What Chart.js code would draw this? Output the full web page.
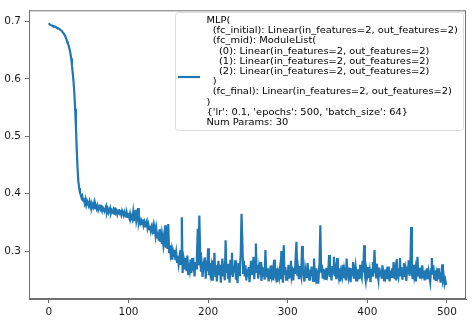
<!DOCTYPE html>
<html>
<head>
<meta charset="utf-8">
<script src="https://cdn.jsdelivr.net/npm/chart.js@4/dist/chart.umd.min.js"></script>
<style>
    html, body { margin: 0; padding: 0; background: #fff; }
    #wrap { width: 474px; height: 322px; }
</style>
</head>
<body>
<div id="wrap"><canvas id="loss-chart" width="474" height="322"></canvas></div>
<script>
// training loss per epoch
const lossValues = [
    0.697, 0.695, 0.694, 0.693, 0.693, 0.692, 0.692, 0.691, 0.691, 0.690,
    0.689, 0.689, 0.688, 0.687, 0.686, 0.685, 0.684, 0.682, 0.680, 0.678,
    0.676, 0.673, 0.669, 0.665, 0.661, 0.657, 0.652, 0.645, 0.636, 0.624,
    0.610, 0.595, 0.575, 0.548, 0.515, 0.478, 0.445, 0.422, 0.410, 0.402,
    0.398, 0.393, 0.396, 0.388, 0.392, 0.384, 0.390, 0.381, 0.387, 0.383,
    0.380, 0.386, 0.378, 0.383, 0.376, 0.381, 0.377, 0.384, 0.375, 0.379,
    0.374, 0.379, 0.372, 0.377, 0.381, 0.373, 0.376, 0.370, 0.375, 0.372,
    0.369, 0.374, 0.378, 0.368, 0.373, 0.367, 0.371, 0.375, 0.366, 0.370,
    0.368, 0.372, 0.365, 0.376, 0.367, 0.370, 0.364, 0.369, 0.373, 0.366,
    0.368, 0.363, 0.370, 0.366, 0.362, 0.368, 0.364, 0.360, 0.366, 0.361,
    0.363, 0.358, 0.365, 0.357, 0.361, 0.356, 0.368, 0.354, 0.359, 0.372,
    0.352, 0.358, 0.375, 0.350, 0.356, 0.349, 0.353, 0.347, 0.355, 0.345,
    0.350, 0.343, 0.348, 0.352, 0.340, 0.346, 0.338, 0.344, 0.335, 0.342,
    0.336, 0.344, 0.330, 0.340, 0.327, 0.338, 0.324, 0.333, 0.318, 0.338,
    0.316, 0.328, 0.312, 0.324, 0.309, 0.318, 0.345, 0.306, 0.316, 0.304,
    0.347, 0.298, 0.310, 0.294, 0.302, 0.285, 0.298, 0.290, 0.302, 0.284,
    0.296, 0.281, 0.292, 0.278, 0.289, 0.276, 0.300, 0.359, 0.262, 0.290,
    0.282, 0.270, 0.288, 0.265, 0.292, 0.260, 0.279, 0.268, 0.285, 0.262,
    0.288, 0.266, 0.275, 0.256, 0.281, 0.270, 0.292, 0.339, 0.275, 0.362,
    0.298, 0.264, 0.281, 0.255, 0.276, 0.268, 0.289, 0.252, 0.283, 0.265,
    0.305, 0.258, 0.279, 0.262, 0.272, 0.250, 0.284, 0.266, 0.297, 0.255,
    0.275, 0.247, 0.268, 0.283, 0.258, 0.276, 0.245, 0.271, 0.287, 0.256,
    0.266, 0.249, 0.319, 0.262, 0.278, 0.252, 0.270, 0.245, 0.285, 0.260,
    0.297, 0.255, 0.274, 0.263, 0.284, 0.250, 0.268, 0.244, 0.279, 0.258,
    0.271, 0.296, 0.365, 0.318, 0.262, 0.283, 0.256, 0.275, 0.249, 0.268,
    0.255, 0.272, 0.246, 0.268, 0.283, 0.258, 0.266, 0.290, 0.251, 0.279,
    0.313, 0.262, 0.275, 0.252, 0.270, 0.259, 0.281, 0.248, 0.266, 0.257,
    0.272, 0.250, 0.302, 0.264, 0.256, 0.270, 0.247, 0.261, 0.253, 0.275,
    0.258, 0.266, 0.249, 0.285, 0.262, 0.255, 0.270, 0.246, 0.263, 0.257,
    0.268, 0.251, 0.300, 0.264, 0.245, 0.310, 0.258, 0.272, 0.250, 0.266,
    0.259, 0.276, 0.252, 0.268, 0.283, 0.255, 0.262, 0.249, 0.271, 0.260,
    0.289, 0.316, 0.257, 0.268, 0.251, 0.274, 0.262, 0.255, 0.309, 0.266,
    0.258, 0.247, 0.270, 0.261, 0.253, 0.279, 0.264, 0.250, 0.268, 0.256,
    0.273, 0.259, 0.248, 0.287, 0.262, 0.254, 0.270, 0.245, 0.266, 0.258,
    0.281, 0.345, 0.264, 0.276, 0.252, 0.269, 0.257, 0.262, 0.250, 0.271,
    0.259, 0.266, 0.293, 0.255, 0.268, 0.249, 0.274, 0.261, 0.290, 0.256,
    0.266, 0.251, 0.288, 0.262, 0.254, 0.270, 0.247, 0.264, 0.258, 0.276,
    0.253, 0.268, 0.260, 0.249, 0.287, 0.263, 0.255, 0.271, 0.257, 0.246,
    0.270, 0.258, 0.281, 0.252, 0.265, 0.274, 0.249, 0.262, 0.256, 0.268,
    0.251, 0.276, 0.260, 0.254, 0.283, 0.263, 0.310, 0.257, 0.248, 0.267,
    0.259, 0.272, 0.253, 0.264, 0.246, 0.269, 0.257, 0.281, 0.262, 0.302,
    0.265, 0.254, 0.278, 0.260, 0.250, 0.271, 0.258, 0.266, 0.252, 0.275,
    0.261, 0.249, 0.268, 0.256, 0.263, 0.251, 0.273, 0.259, 0.247, 0.266,
    0.255, 0.270, 0.258, 0.281, 0.252, 0.264, 0.249, 0.286, 0.260, 0.254,
    0.268, 0.288, 0.256, 0.272, 0.250, 0.263, 0.279, 0.255, 0.266, 0.248,
    0.273, 0.260, 0.284, 0.257, 0.269, 0.342, 0.262, 0.251, 0.276, 0.258,
    0.268, 0.247, 0.265, 0.290, 0.256, 0.271, 0.252, 0.263, 0.258, 0.275,
    0.254, 0.266, 0.249, 0.261, 0.257, 0.270, 0.251, 0.264, 0.255, 0.246,
    0.268, 0.288, 0.259, 0.275, 0.252, 0.266, 0.248, 0.262, 0.256, 0.270,
    0.251, 0.263, 0.245, 0.258, 0.277, 0.250, 0.256, 0.243, 0.249, 0.241
];

const xTicks = [0, 100, 200, 300, 400, 500];
const yTicks = [0.3, 0.4, 0.5, 0.6, 0.7];

const legendLines = [
    'MLP(',
    '  (fc_initial): Linear(in_features=2, out_features=2)',
    '  (fc_mid): ModuleList(',
    '    (0): Linear(in_features=2, out_features=2)',
    '    (1): Linear(in_features=2, out_features=2)',
    '    (2): Linear(in_features=2, out_features=2)',
    '  )',
    '  (fc_final): Linear(in_features=2, out_features=2)',
    ')',
    "{'lr': 0.1, 'epochs': 500, 'batch_size': 64}",
    'Num Params: 30'
];

const lineColor = '#1f77b4';
const fontFamily = '"DejaVu Sans", sans-serif';

// frame around the plot + the multi-line legend box
const framePlugin = {
    id: 'frame',
    afterDatasetsDraw(chart) {
        const { ctx, chartArea: a } = chart;
        ctx.save();
        ctx.strokeStyle = '#6f6f6f';
        ctx.lineWidth = 1;
        ctx.strokeRect(a.left + 0.5, a.top + 0.5, a.right - a.left - 1, a.bottom - a.top - 1);

        // legend box
        const bx = 175, by = 12, bw = 288, bh = 118;
        ctx.fillStyle = 'rgba(255,255,255,0.85)';
        ctx.strokeStyle = '#dcdcdc';
        ctx.beginPath();
        ctx.roundRect(bx + 0.5, by + 0.5, bw, bh, 3);
        ctx.fill();
        ctx.stroke();

        ctx.strokeStyle = lineColor;
        ctx.lineWidth = 2.2;
        ctx.beginPath();
        ctx.moveTo(178, 77);
        ctx.lineTo(200, 77);
        ctx.stroke();

        const lines = chart.data.datasets[0].label.split('\n');
        ctx.fillStyle = '#000';
        ctx.font = '8.8px ' + fontFamily;
        ctx.textBaseline = 'middle';
        lines.forEach((line, i) => {
            ctx.save();
            ctx.translate(206.5, 20.7 + i * 10.2);
            ctx.scale(1.12, 1);
            ctx.fillText(line, 0, 0);
            ctx.restore();
        });
        ctx.restore();
    }
};

const ctx = document.getElementById('loss-chart').getContext('2d');

const lossChart = new Chart(ctx, {
    type: 'line',
    data: {
        datasets: [{
            label: legendLines.join('\n'),
            data: lossValues.map((v, i) => ({ x: i, y: v })),
            borderColor: lineColor,
            borderWidth: 2.2,
            pointRadius: 0,
            fill: false,
            tension: 0
        }]
    },
    options: {
        responsive: false,
        devicePixelRatio: 1,
        animation: false,
        layout: { padding: { top: 6, right: 8, left: 0, bottom: 0 } },
        plugins: {
            legend: { display: false },
            tooltip: { enabled: false }
        },
        scales: {
            x: {
                type: 'linear',
                min: -24.95,
                max: 523.95,
                afterFit: s => { s.height = 23; },
                afterBuildTicks: s => { s.ticks = xTicks.map(v => ({ value: v })); },
                ticks: {
                    includeBounds: false,
                    maxRotation: 0,
                    padding: 3,
                    color: '#1a1a1a',
                    font: { family: fontFamily, size: 10.5 },
                    callback: v => String(v)
                },
                grid: { display: true, drawOnChartArea: false, drawTicks: true, tickLength: 4, color: '#6f6f6f' },
                border: { display: true, color: '#6f6f6f' }
            },
            y: {
                min: 0.2165,
                max: 0.7195,
                afterFit: s => { s.width = 29; },
                afterBuildTicks: s => { s.ticks = yTicks.map(v => ({ value: v })); },
                ticks: {
                    includeBounds: false,
                    padding: 4,
                    color: '#1a1a1a',
                    font: { family: fontFamily, size: 10.5 },
                    callback: v => v.toFixed(1)
                },
                grid: { display: true, drawOnChartArea: false, drawTicks: true, tickLength: 4, color: '#6f6f6f' },
                border: { display: true, color: '#6f6f6f' }
            }
        }
    },
    plugins: [framePlugin]
});
</script>
</body>
</html>
